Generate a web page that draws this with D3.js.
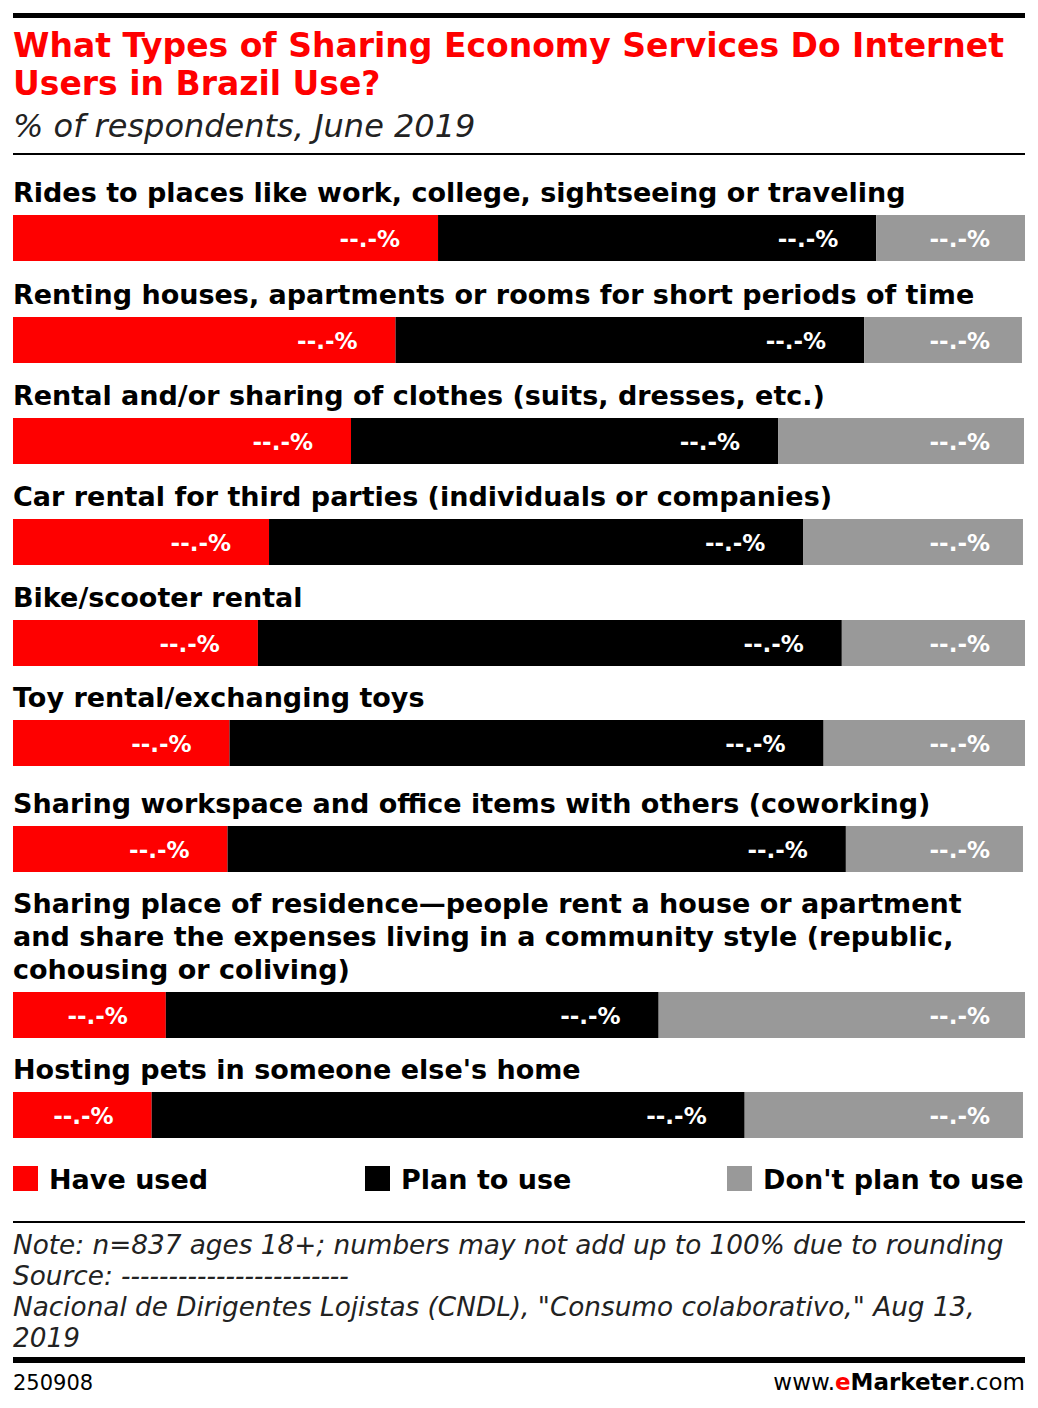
<!DOCTYPE html><html><head><meta charset="utf-8">
<script src="https://cdn.jsdelivr.net/npm/d3@7"></script>
<style>body{margin:0;background:#fff}</style></head><body><svg id="c" width="1038" height="1408"></svg>
<script>
const categories=[
["Rides to places like work, college, sightseeing or traveling"],
["Renting houses, apartments or rooms for short periods of time"],
["Rental and/or sharing of clothes (suits, dresses, etc.)"],
["Car rental for third parties (individuals or companies)"],
["Bike/scooter rental"],
["Toy rental/exchanging toys"],
["Sharing workspace and office items with others (coworking)"],
["Sharing place of residence—people rent a house or apartment","and share the expenses living in a community style (republic,","cohousing or coliving)"],
["Hosting pets in someone else's home"]];
const haveUsed=[42.0,37.8,33.4,25.3,24.2,21.4,21.2,15.1,13.7];
const planToUse=[43.3,46.3,42.2,52.8,57.7,58.7,61.1,48.7,58.6];
const dontPlan=[14.7,15.6,24.3,21.7,18.1,19.9,17.5,36.2,27.5];
const seriesNames=["Have used","Plan to use","Don't plan to use"];
const colors=["#fe0000","#000000","#999999"];
const labelText="--.-%";
const barTops=[215,317,418,519,620,720,826,992,1092];

const svg=d3.select("#c");
const F="DejaVu Sans, Verdana, sans-serif";
const x=d3.scaleLinear().domain([0,100]).range([13,1025]);
svg.append("rect").attr("x",13).attr("y",13).attr("width",1012).attr("height",5);
svg.append("text").attr("x",13).attr("y",57).attr("font-family",F).attr("font-weight","bold").attr("font-size",33).attr("fill","#fe0000").text("What Types of Sharing Economy Services Do Internet");
svg.append("text").attr("x",13).attr("y",95).attr("font-family",F).attr("font-weight","bold").attr("font-size",33).attr("fill","#fe0000").text("Users in Brazil Use?");
svg.append("text").attr("x",13).attr("y",137).attr("font-family",F).attr("font-style","italic").attr("font-size",32).attr("fill","#222").text("% of respondents, June 2019");
svg.append("rect").attr("x",13).attr("y",153).attr("width",1012).attr("height",2);

const series=[haveUsed,planToUse,dontPlan];
categories.forEach((lines,i)=>{
  const top=barTops[i];
  lines.forEach((l,j)=>svg.append("text").attr("x",13).attr("y",top-13-(lines.length-1-j)*33).attr("font-family",F).attr("font-weight","bold").attr("font-size",27).attr("fill","#000").text(l));
  let acc=0;
  series.forEach((s,k)=>{
    const v=s[i];
    svg.append("rect").attr("x",x(acc)).attr("y",top).attr("width",x(acc+v)-x(acc)).attr("height",46).attr("fill",colors[k]);
    acc+=v;
    const lx=k==2?990:x(acc)-38;
    svg.append("text").attr("x",lx).attr("y",top+32).attr("text-anchor","end").attr("font-family",F).attr("font-weight","bold").attr("font-size",23).attr("fill","#fff").text(labelText);
  });
});
const legX=[13,365,727];
seriesNames.forEach((n,k)=>{
  svg.append("rect").attr("x",legX[k]).attr("y",1166).attr("width",25).attr("height",25).attr("fill",colors[k]);
  svg.append("text").attr("x",legX[k]+36).attr("y",1189).attr("font-family",F).attr("font-weight","bold").attr("font-size",27).text(n);
});
svg.append("rect").attr("x",13).attr("y",1221).attr("width",1012).attr("height",2);
["Note: n=837 ages 18+; numbers may not add up to 100% due to rounding","Source: ------------------------","Nacional de Dirigentes Lojistas (CNDL), \"Consumo colaborativo,\" Aug 13,","2019"].forEach((t,i)=>
 svg.append("text").attr("x",13).attr("y",1254+i*31).attr("font-family",F).attr("font-style","italic").attr("font-size",26.3).attr("fill","#222").text(t));
svg.append("rect").attr("x",13).attr("y",1357).attr("width",1012).attr("height",6);
svg.append("text").attr("x",13).attr("y",1390).attr("font-family",F).attr("font-size",21).text("250908");
const ft=svg.append("text").attr("x",1025).attr("y",1390).attr("text-anchor","end").attr("font-family",F).attr("font-size",23);
ft.append("tspan").text("www.");ft.append("tspan").attr("fill","#fe0000").attr("font-weight","bold").text("e");
ft.append("tspan").attr("font-weight","bold").text("Marketer");ft.append("tspan").text(".com");
</script></body></html>
